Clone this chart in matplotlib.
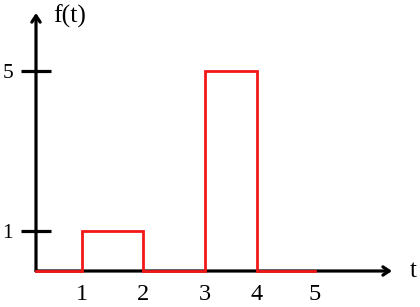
import numpy as np
import matplotlib
matplotlib.use("Agg")
import matplotlib.pyplot as plt

# Data
t_points = [0, 1, 2, 3, 4, 5]
f_values = [0, 1, 0, 5, 0, 0]
x_ticks = [1, 2, 3, 4, 5]
x_tick_labels = ["1", "2", "3", "4", "5"]
y_ticks = [1, 5]
y_tick_labels = ["1", "5"]

# Layout: hand-drawn horizontal spacing (pixel offsets of t = 0..5)
_t_ref = [-10, 0, 1, 2, 3, 4, 5, 20]
_px_ref = [-460, 0, 46, 107, 169, 221, 279, 279 + 15 * 58]

def fwd(t):
    return np.interp(t, _t_ref, _px_ref)

def inv(p):
    return np.interp(p, _px_ref, _t_ref)

plt.rcParams['font.family'] = ['Liberation Serif', 'DejaVu Serif']

fig = plt.figure(figsize=(4.2, 3.07), dpi=100)
ax = fig.add_axes([0, 0, 1, 1])
ax.set_xscale('function', functions=(fwd, inv))
ax.set_xlim(inv(-36), inv(384))
ax.set_ylim(-36 / 40, (307 - 36) / 40)
ax.patch.set_alpha(0)

black_lw = 2.3
red = '#f21818'

# axes arrows
x_tip = inv(356)
y_tip = 258 / 40
ax.annotate('', xy=(x_tip, 0), xytext=(0, 0),
            arrowprops=dict(arrowstyle='->,head_length=0.45,head_width=0.3',
                            lw=black_lw, color='black', shrinkA=0, shrinkB=0),
            zorder=1)
ax.annotate('', xy=(0, y_tip), xytext=(0, 0),
            arrowprops=dict(arrowstyle='->,head_length=0.45,head_width=0.3',
                            lw=black_lw, color='black', shrinkA=0, shrinkB=0),
            zorder=1)

# signal
ax.step(t_points, f_values, where='post', color=red, lw=2.0, zorder=3,
        solid_joinstyle='miter')

# spines positioned at origin (invisible, used for tick placement)
for s in ['top', 'right']:
    ax.spines[s].set_visible(False)
ax.spines['left'].set_position(('data', 0))
ax.spines['bottom'].set_position(('data', 0))
ax.spines['left'].set_visible(False)
ax.spines['bottom'].set_visible(False)

ax.set_xticks(x_ticks)
ax.set_xticklabels(x_tick_labels, fontsize=17.5)
ax.set_yticks(y_ticks)
ax.set_yticklabels(y_tick_labels, fontsize=15.5)
ax.tick_params(axis='x', length=0, pad=9.5)
ax.tick_params(axis='y', direction='inout', length=21, width=black_lw, pad=6)
ax.xaxis.set_minor_locator(matplotlib.ticker.NullLocator())
ax.yaxis.set_minor_locator(matplotlib.ticker.NullLocator())

# axis labels
ax.text(inv(377), 0, 't', fontsize=18, ha='center', va='center')
ax.text(inv(17), y_tip - 0.07, 'f(t)', fontsize=18.5, ha='left', va='center')

fig.savefig('out.png', dpi=100)
